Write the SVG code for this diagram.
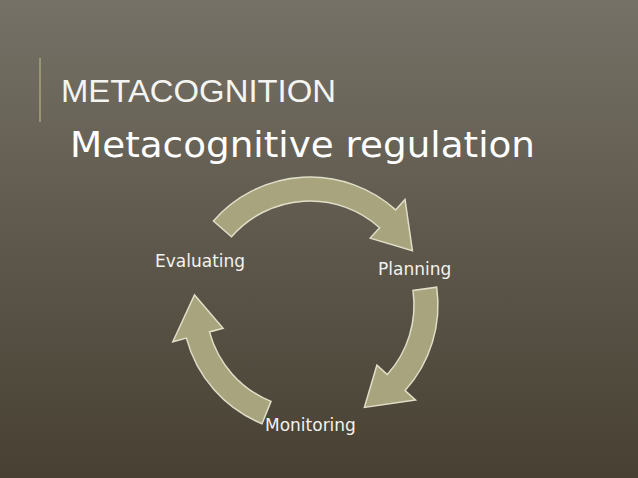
<svg xmlns="http://www.w3.org/2000/svg" width="638" height="478" viewBox="0 0 638 478">
<defs>
<linearGradient id="bg" x1="0" y1="0" x2="0" y2="1"><stop offset="0" stop-color="#767166"/><stop offset="1" stop-color="#474033"/></linearGradient>
<style>
.arr{fill:#a8a47d;stroke:#e0dec8;stroke-width:1.5}
.lbl{font-family:"DejaVu Sans",sans-serif;font-size:17px;fill:#f2f2ec}
</style>
</defs>
<rect width="638" height="478" fill="url(#bg)"/>
<line x1="40" y1="58" x2="40" y2="122" stroke="#a8a47d" stroke-width="1.5"/>
<text x="61" y="102" font-family="Liberation Sans,sans-serif" font-size="32" fill="#f4f4f0" textLength="275" lengthAdjust="spacingAndGlyphs">METACOGNITION</text>
<text x="70" y="157" font-family="DejaVu Sans,sans-serif" font-size="36" fill="#ffffff" textLength="465" lengthAdjust="spacingAndGlyphs">Metacognitive regulation</text>
<g id="connectors">
<path class="arr" d="M213.4,221 A128,128 0 0 1 395.6,209.9 L405,199.5 L412.4,250.6 L370.2,238.1 L379.6,227.7 A104,104 0 0 0 231.5,236.8 Z"/>
<path class="arr" d="M436.7,287.2 A128,128 0 0 1 405.1,390.6 L415.5,400 L364.4,407.4 L376.9,365.2 L387.3,374.6 A104,104 0 0 0 413,290.5 Z"/>
<path class="arr" d="M262,423.7 A128,128 0 0 1 186.4,338.1 L172.8,341.8 L194.5,294.9 L223.1,328.3 L209.5,331.9 A104,104 0 0 0 271,401.4 Z"/>
</g>
<g id="evaluating"><text class="lbl" x="155" y="267">Evaluating</text></g>
<g id="planning"><text class="lbl" x="378" y="275">Planning</text></g>
<g id="monitoring"><text class="lbl" x="265" y="431">Monitoring</text></g>
</svg>
